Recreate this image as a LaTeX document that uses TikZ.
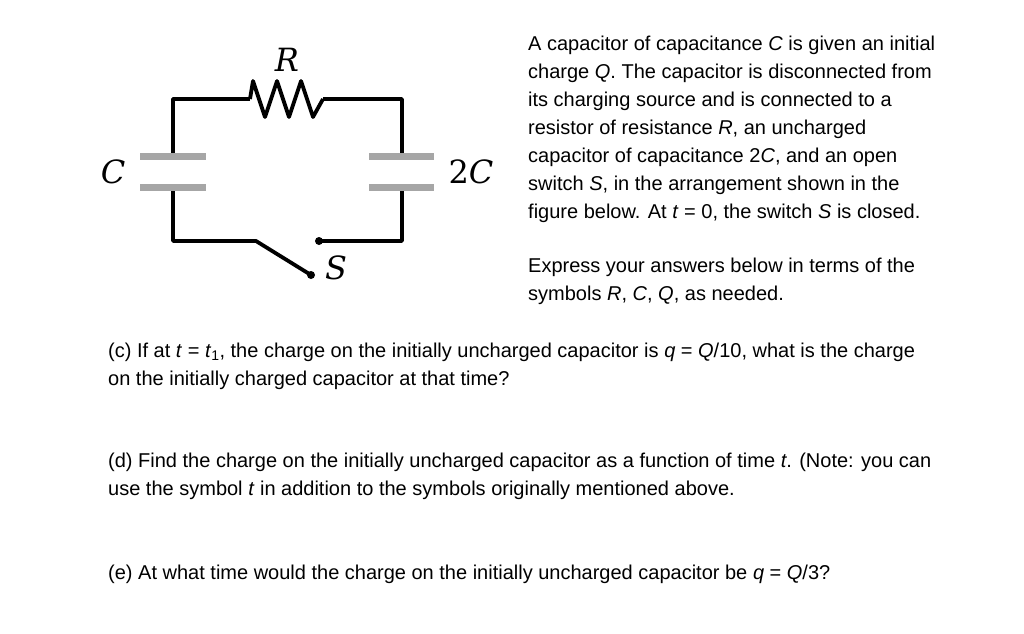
\documentclass[tikz,border=0pt]{standalone}
\usepackage{fontspec}
\setmainfont{Liberation Sans}
\newfontfamily\labfont{DejaVu Serif}
\begin{document}
\begin{tikzpicture}[x=1pt,y=-1pt,
  wire/.style={line width=3.8pt,line join=round},
  plate/.style={line width=7pt,draw=gray!70},
  txt/.style={anchor=base west,inner sep=0pt,font=\fontsize{20}{22}\selectfont},
  lab/.style={inner sep=0pt,font=\fontsize{32}{32}\selectfont\labfont\itshape}]
\useasboundingbox (0,0) rectangle (1024,633);
\coordinate (tl) at (173,99); \coordinate (tr) at (402,99);
\coordinate (bl) at (173,241); \coordinate (br) at (402,241);
\coordinate (r1) at (250,99); \coordinate (r2) at (323,99);
\coordinate (sw) at (256,241);
\coordinate (sa) at (311,275); \coordinate (sb) at (319,241);
\draw[wire] (r1) -- (tl) -- (173,153);
\draw[wire] (173,189) -- (bl) -- (sw) -- (sa);
\draw[wire] (r2) -- (tr) -- (402,153);
\draw[wire] (402,189) -- (br) -- (sb);
\draw[wire] (r1) -- (253,81) -- (265,117) -- (277,81) -- (289,117) -- (301,81) -- (313,117) -- (r2);
\fill (sa) circle (4); \fill (sb) circle (4);
\draw[plate] (140,156) -- (206,156); \draw[plate] (140,187) -- (206,187);
\draw[plate] (369,156) -- (434,156); \draw[plate] (369,187) -- (434,187);
\node[lab] (R) at (287,60) {R};
\node[lab] (C) at (113,172) {C};
\node[lab] (C2) at (471,172) {{\upshape 2}C};
\node[lab] (S) at (336,268) {S};
\node[txt] at (528,50) {A capacitor of capacitance \textit{C} is given an initial};
\node[txt] at (528,78) {charge \textit{Q}. The capacitor is disconnected from};
\node[txt] at (528,106) {its charging source and is connected to a};
\node[txt] at (528,134) {resistor of resistance \textit{R}, an uncharged};
\node[txt] at (528,162) {capacitor of capacitance 2\textit{C}, and an open};
\node[txt] at (528,190) {switch \textit{S}, in the arrangement shown in the};
\node[txt] at (528,218) {figure below. At \textit{t} = 0, the switch \textit{S} is closed.};
\node[txt] at (528,272) {Express your answers below in terms of the};
\node[txt] at (528,300) {symbols \textit{R}, \textit{C}, \textit{Q}, as needed.};
\node[txt] at (108,357) {(c) If at \textit{t} = \textit{t}\textsubscript{1}, the charge on the initially uncharged capacitor is \textit{q} = \textit{Q}/10, what is the charge};
\node[txt] at (108,385) {on the initially charged capacitor at that time?};
\node[txt] at (108,467) {(d) Find the charge on the initially uncharged capacitor as a function of time \textit{t}. (Note: you can};
\node[txt] at (108,495) {use the symbol \textit{t} in addition to the symbols originally mentioned above.};
\node[txt] at (108,579) {(e) At what time would the charge on the initially uncharged capacitor be \textit{q} = \textit{Q}/3?};
\end{tikzpicture}
\end{document}
